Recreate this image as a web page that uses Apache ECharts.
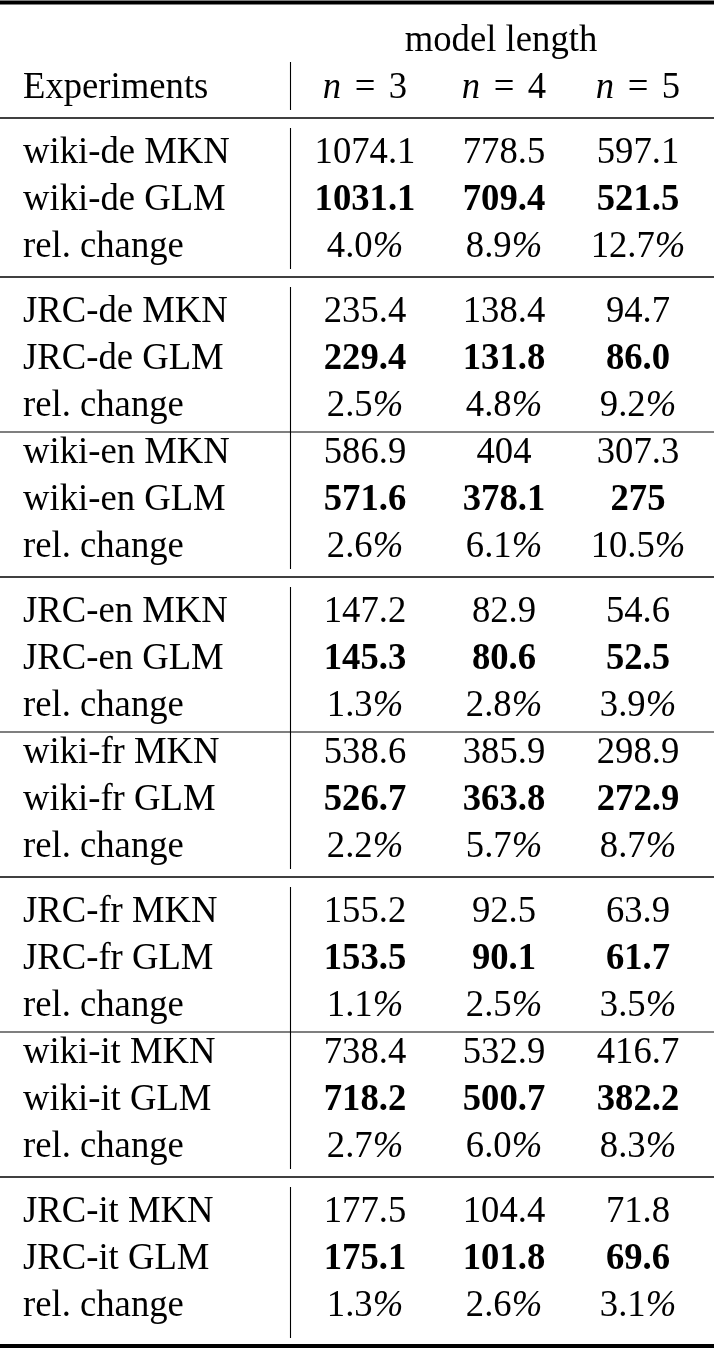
<!DOCTYPE html>
<html><head><meta charset="utf-8">
<script src="https://cdn.jsdelivr.net/npm/echarts@6/dist/echarts.min.js"></script>
<style>html,body{margin:0;padding:0;background:#fff}#chart{width:714px;height:1350px}</style>
</head><body><div id="chart"></div>
<script>
// ---------- data ----------
const experiments = ['wiki-de','JRC-de','wiki-en','JRC-en','wiki-fr','JRC-fr','wiki-it','JRC-it'];
const modelLengths = [3, 4, 5];
const mknValues = [
  ['1074.1','778.5','597.1'],
  ['235.4','138.4','94.7'],
  ['586.9','404','307.3'],
  ['147.2','82.9','54.6'],
  ['538.6','385.9','298.9'],
  ['155.2','92.5','63.9'],
  ['738.4','532.9','416.7'],
  ['177.5','104.4','71.8']
];
const glmValues = [
  ['1031.1','709.4','521.5'],
  ['229.4','131.8','86.0'],
  ['571.6','378.1','275'],
  ['145.3','80.6','52.5'],
  ['526.7','363.8','272.9'],
  ['153.5','90.1','61.7'],
  ['718.2','500.7','382.2'],
  ['175.1','101.8','69.6']
];
const relChange = [
  ['4.0','8.9','12.7'],
  ['2.5','4.8','9.2'],
  ['2.6','6.1','10.5'],
  ['1.3','2.8','3.9'],
  ['2.2','5.7','8.7'],
  ['1.1','2.5','3.5'],
  ['2.7','6.0','8.3'],
  ['1.3','2.6','3.1']
];
const headerTitle = 'model length';
const firstColumnTitle = 'Experiments';
const rowLabels = ['MKN', 'GLM', 'rel. change'];

// ---------- layout ----------
const W = 714, H = 1350;
const FONT = '"Liberation Serif", "Times New Roman", serif';
const FS = 38, SX = 0.965;
const ROW = 47, MID_EXTRA = 18;
const TITLE_BASE = 51, HEADER_BASE = 98, FIRST_BASE = 163;
const LABEL_X = 23, COL_X = [365, 504, 638], TITLE_X = 501, VRULE_X = 290.5;
const BASE_TO_MID = 10;

function groupBase(g) { return FIRST_BASE + g * 3 * ROW + MID_EXTRA * Math.ceil(g / 2); }

// text cells
const cells = [];
function addCell(x, base, text, align) { cells.push({ value: [x, base - BASE_TO_MID], text: text, align: align }); }
addCell(TITLE_X, TITLE_BASE, headerTitle, 'center');
addCell(LABEL_X, HEADER_BASE, firstColumnTitle, 'left');
modelLengths.forEach((n, c) => addCell(COL_X[c], HEADER_BASE, '{mi|n}{eq|=}{num|' + n + '}', 'center'));
experiments.forEach((e, g) => {
  const b = groupBase(g);
  addCell(LABEL_X, b, e + ' ' + rowLabels[0], 'left');
  addCell(LABEL_X, b + ROW, e + ' ' + rowLabels[1], 'left');
  addCell(LABEL_X, b + 2 * ROW, rowLabels[2], 'left');
  for (let c = 0; c < 3; c++) {
    addCell(COL_X[c], b, mknValues[g][c], 'center');
    addCell(COL_X[c], b + ROW, '{b|' + glmValues[g][c] + '}', 'center');
    addCell(COL_X[c], b + 2 * ROW, relChange[g][c] + '{pct|%}', 'center');
  }
});

// rules
const rules = [];
rules.push({ value: [0, 2.5, W, 2.5], w: 4 });
const midrules = [HEADER_BASE + 20];
rules.push({ value: [0, midrules[0], W, midrules[0]], w: 1.6 });
experiments.forEach((e, g) => {
  const relBase = groupBase(g) + 2 * ROW;
  if (g === experiments.length - 1) return;
  if (g % 2 === 0) { const y = relBase + 20; midrules.push(y); rules.push({ value: [0, y, W, y], w: 1.6 }); }
  else { const y = relBase + 16; rules.push({ value: [0, y, W, y], w: 1.1 }); }
});
const bottomY = groupBase(experiments.length - 1) + 2 * ROW + 30;
rules.push({ value: [0, bottomY, W, bottomY], w: 4 });
// vertical rule segments
rules.push({ value: [VRULE_X, HEADER_BASE - 36, VRULE_X, HEADER_BASE + 12], w: 1.1 });
const sectionEdges = midrules.concat([bottomY]);
for (let i = 0; i < sectionEdges.length - 1; i++) {
  rules.push({ value: [VRULE_X, sectionEdges[i] + 10, VRULE_X, sectionEdges[i + 1] - 8], w: 1.1 });
}

const rich = {
  b: { fontFamily: FONT, fontSize: FS, fontWeight: 'bold', color: '#000' },
  pct: { fontFamily: FONT, fontSize: FS, fontStyle: 'italic', color: '#000' },
  mi: { fontFamily: FONT, fontSize: FS, fontStyle: 'italic', color: '#000' },
  eq: { fontFamily: FONT, fontSize: FS, color: '#000', padding: [0, 14] },
  num: { fontFamily: FONT, fontSize: FS, color: '#000' }
};

const chart = echarts.init(document.getElementById('chart'), null, { renderer: 'canvas' });
chart.setOption({
  animation: false,
  backgroundColor: '#fff',
  grid: { left: 0, right: 0, top: 0, bottom: 0 },
  xAxis: { type: 'value', min: 0, max: W, show: false },
  yAxis: { type: 'value', min: 0, max: H, inverse: true, show: false },
  series: [
    {
      type: 'custom',
      coordinateSystem: 'cartesian2d',
      data: rules,
      silent: true,
      renderItem: function (params, api) {
        const r = rules[params.dataIndex];
        const p1 = api.coord([api.value(0), api.value(1)]);
        const p2 = api.coord([api.value(2), api.value(3)]);
        return { type: 'line', shape: { x1: p1[0], y1: p1[1], x2: p2[0], y2: p2[1] },
                 style: { stroke: '#000', lineWidth: r.w } };
      }
    },
    {
      type: 'custom',
      coordinateSystem: 'cartesian2d',
      data: cells,
      silent: true,
      renderItem: function (params, api) {
        const d = cells[params.dataIndex];
        const p = api.coord([api.value(0), api.value(1)]);
        return { type: 'text', x: p[0], y: p[1], scaleX: SX,
                 style: { text: d.text, fontFamily: FONT, fontSize: FS, fill: '#000',
                          align: d.align, verticalAlign: 'middle', rich: rich } };
      }
    }
  ]
});
</script></body></html>
